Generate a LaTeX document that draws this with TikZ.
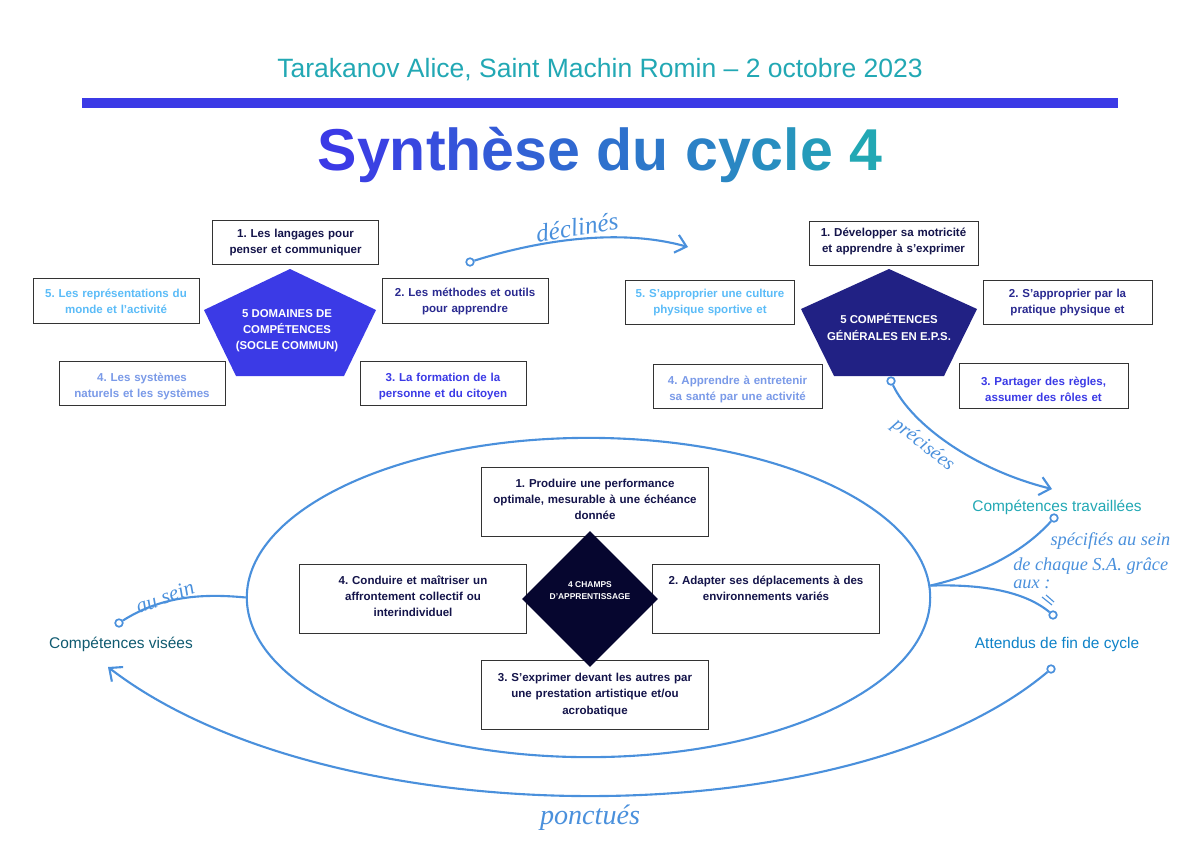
\documentclass[tikz,border=0pt]{standalone}
\usepackage{fontspec}
\setmainfont{Liberation Sans}
\newfontfamily\mainscrite{Liberation Serif}
\usetikzlibrary{arrows.meta,shapes.geometric}
\frenchspacing

\definecolor{bleuvif}{HTML}{3B3AE6}
\definecolor{bleunuit}{HTML}{212184}
\definecolor{encre}{HTML}{06062F}
\definecolor{marine}{HTML}{14144A}
\definecolor{indigo}{HTML}{2A2A90}
\definecolor{pervenche}{HTML}{7A9AE8}
\definecolor{ciel}{HTML}{5BBCF8}
\definecolor{turquoise}{HTML}{22A8B4}
\definecolor{azur}{HTML}{0E82C8}
\definecolor{sapin}{HTML}{0F5A70}
\definecolor{trait}{HTML}{4A90DC}

\newcommand{\cale}{\\[-7pt]~}
\newcommand{\calehaut}{\strut\\[-9pt]}

\tikzset{
  boite/.style={draw=black!80,fill=white,line width=0.6pt,inner sep=0pt,align=center,font=\bfseries\fontsize{8.2}{11.4}\selectfont},
  petite/.style={boite,minimum width=4.15cm,minimum height=1.12cm,text width=4.1cm},
  large/.style={petite,minimum width=4.22cm,text width=4.2cm},
  champ/.style={boite,text=marine,minimum width=5.68cm,minimum height=1.72cm,text width=5.6cm},
  titrecentre/.style={text=white,align=center,inner sep=0pt,font=\bfseries\fontsize{8.1}{11.4}\selectfont},
  etiquette/.style={font=\fontsize{11}{13}\selectfont},
  bout/.style={circle,draw=trait,fill=white,line width=1.2pt,inner sep=0pt,minimum size=0.19cm},
  lien/.style={draw=trait,line width=1.5pt},
  fleche/.style={lien,-{Straight Barb[length=2.6mm,width=4.6mm,line width=1.5pt]}},
  scrite/.style={text=trait,inner sep=0pt,align=left,font=\mainscrite\itshape\fontsize{#1}{17.8}\selectfont}
}

\begin{document}
\begin{tikzpicture}[x=0.025cm,y=-0.025cm]
    \useasboundingbox (0,0) rectangle (1200,848);

    % entete
    \node[text=turquoise,anchor=base,font=\fontsize{18.85}{20}\selectfont] (auteurs) at (600,77) {Tarakanov Alice, Saint Machin Romin – 2 octobre 2023};
    \fill[bleuvif] (82,98) rectangle (1118,108);
    \node[anchor=base,font=\bfseries\fontsize{42}{44}\selectfont] (titre) at (600,170) {%
      \textcolor{bleuvif}{S}\textcolor{turquoise!6!bleuvif}{y}\textcolor{turquoise!12!bleuvif}{n}\textcolor{turquoise!18!bleuvif}{t}\textcolor{turquoise!24!bleuvif}{h}\textcolor{turquoise!30!bleuvif}{è}\textcolor{turquoise!36!bleuvif}{s}\textcolor{turquoise!42!bleuvif}{e} \textcolor{turquoise!50!bleuvif}{d}\textcolor{turquoise!56!bleuvif}{u} \textcolor{turquoise!64!bleuvif}{c}\textcolor{turquoise!70!bleuvif}{y}\textcolor{turquoise!76!bleuvif}{c}\textcolor{turquoise!82!bleuvif}{l}\textcolor{turquoise!88!bleuvif}{e} \textcolor{turquoise}{4}};

    % socle commun
    \node[petite,text=marine] (dom1) at (295.5,242.5) {1. Les langages pour\\penser et communiquer};
    \node[petite,text=indigo] (dom2) at (465,301) {2. Les méthodes et outils\\pour apprendre};
    \node[petite,text=bleuvif] (dom3) at (443,383.5) {\calehaut 3. La formation de la\\personne et du citoyen};
    \node[petite,text=pervenche] (dom4) at (142,383.5) {\calehaut 4. Les systèmes\\naturels et les systèmes};
    \node[petite,text=ciel] (dom5) at (116,301) {5. Les représentations du\\monde et l'activité};
    \fill[bleuvif] (290,269) -- (376,310) -- (344,376) -- (236,376) -- (204,310) -- cycle;
    \node[titrecentre] (domaines) at (287,331) {5 DOMAINES DE\\COMPÉTENCES\\(SOCLE COMMUN)};

    % eps
    \node[large,text=marine] (comp1) at (893.5,243.5) {1. Développer sa motricité\\et apprendre à s'exprimer\cale};
    \node[large,text=indigo] (comp2) at (1067.5,302.5) {2. S'approprier par la\\pratique physique et};
    \node[large,text=bleuvif] (comp3) at (1043.5,386) {\calehaut 3. Partager des règles,\\assumer des rôles et};
    \node[large,text=pervenche] (comp4) at (737.5,386.5) {\calehaut 4. Apprendre à entretenir\\sa santé par une activité};
    \node[large,text=ciel] (comp5) at (710,302.5) {5. S'approprier une culture\\physique sportive et};
    \fill[bleunuit] (889,269) -- (977,309) -- (944,376) -- (834,376) -- (801,309) -- cycle;
    \node[titrecentre] (competences) at (889,327) {5 COMPÉTENCES\\GÉNÉRALES EN E.P.S.};

    % champs d'apprentissage
    \node[ellipse,draw=trait,line width=1.5pt,inner sep=0pt,minimum width=17.08cm,minimum height=7.98cm] (cycle) at (588.5,597.5) {};
    \node[champ] (champ1) at (595,502) {1. Produire une performance\\optimale, mesurable à une échéance\\donnée\cale};
    \node[champ] (champ2) at (766,599) {2. Adapter ses déplacements à des\\environnements variés\\~\cale};
    \node[champ] (champ3) at (595,695) {3. S'exprimer devant les autres par\\une prestation artistique et/ou\\acrobatique};
    \node[champ] (champ4) at (413,599) {4. Conduire et maîtriser un\\affrontement collectif ou\\interindividuel\cale};
    \node[diamond,fill=encre,inner sep=0pt,minimum width=3.4cm,minimum height=3.4cm] (losange) at (590,599) {};
    \node[titrecentre,font=\bfseries\fontsize{6}{8.6}\selectfont] (champs) at (590,591) {4 CHAMPS\\D'APPRENTISSAGE};

    % libelles
    \node[etiquette,text=turquoise] (travaillees) at (1057,507) {Compétences travaillées};
    \node[etiquette,text=azur] (attendus) at (1057,644) {Attendus de fin de cycle};
    \node[etiquette,text=sapin] (visees) at (121,644) {Compétences visées};

    % liens
    \node[bout] (boutdecl) at (470,262) {};
    \coordinate (findecl) at (688,247);
    \draw[fleche] (boutdecl) .. controls (540,240) and (620,228) .. (findecl);
    \node[bout] (boutprec) at (891,381) {};
    \coordinate (finprec) at (1052,489);
    \draw[fleche] (boutprec) .. controls (912,425) and (975,470) .. (finprec);
    \node[bout] (bouttrav) at (1054,518) {};
    \node[bout] (boutatt) at (1053,615) {};
    \draw[lien] (cycle.2.2) .. controls (985,573) and (1025,550) .. (bouttrav);
    \draw[lien] (cycle.2.2) .. controls (985,584) and (1025,592) .. (boutatt);
    \draw[draw=trait,line width=0.8pt] (1042,597) -- (1052,605);
    \draw[draw=trait,line width=0.8pt] (1046,595) -- (1054,602);
    \node[bout] (boutvis) at (119,623) {};
    \draw[lien] (cycle.west) .. controls (200,593) and (160,597) .. (boutvis);
    \node[bout] (boutponc) at (1051,669) {};
    \coordinate (finponc) at (108,667);
    \draw[fleche] (boutponc) .. controls (850,838) and (330,838) .. (finponc);

    % annotations
    \node[scrite=18,rotate=9] (declines) at (577,227) {déclinés};
    \node[scrite=14,rotate=-38] (precisees) at (923,445) {précisées};
    \node[scrite=15,rotate=20] (ausein) at (165,597) {au sein};
    \node[scrite=20] (ponctues) at (590,818) {ponctués};
    \node[scrite=13,anchor=north west] (specifies) at (1013,532) {\hspace*{0.93cm}spécifiés au sein\\de chaque S.A. grâce\\[-5pt]aux :};
\end{tikzpicture}
\end{document}
